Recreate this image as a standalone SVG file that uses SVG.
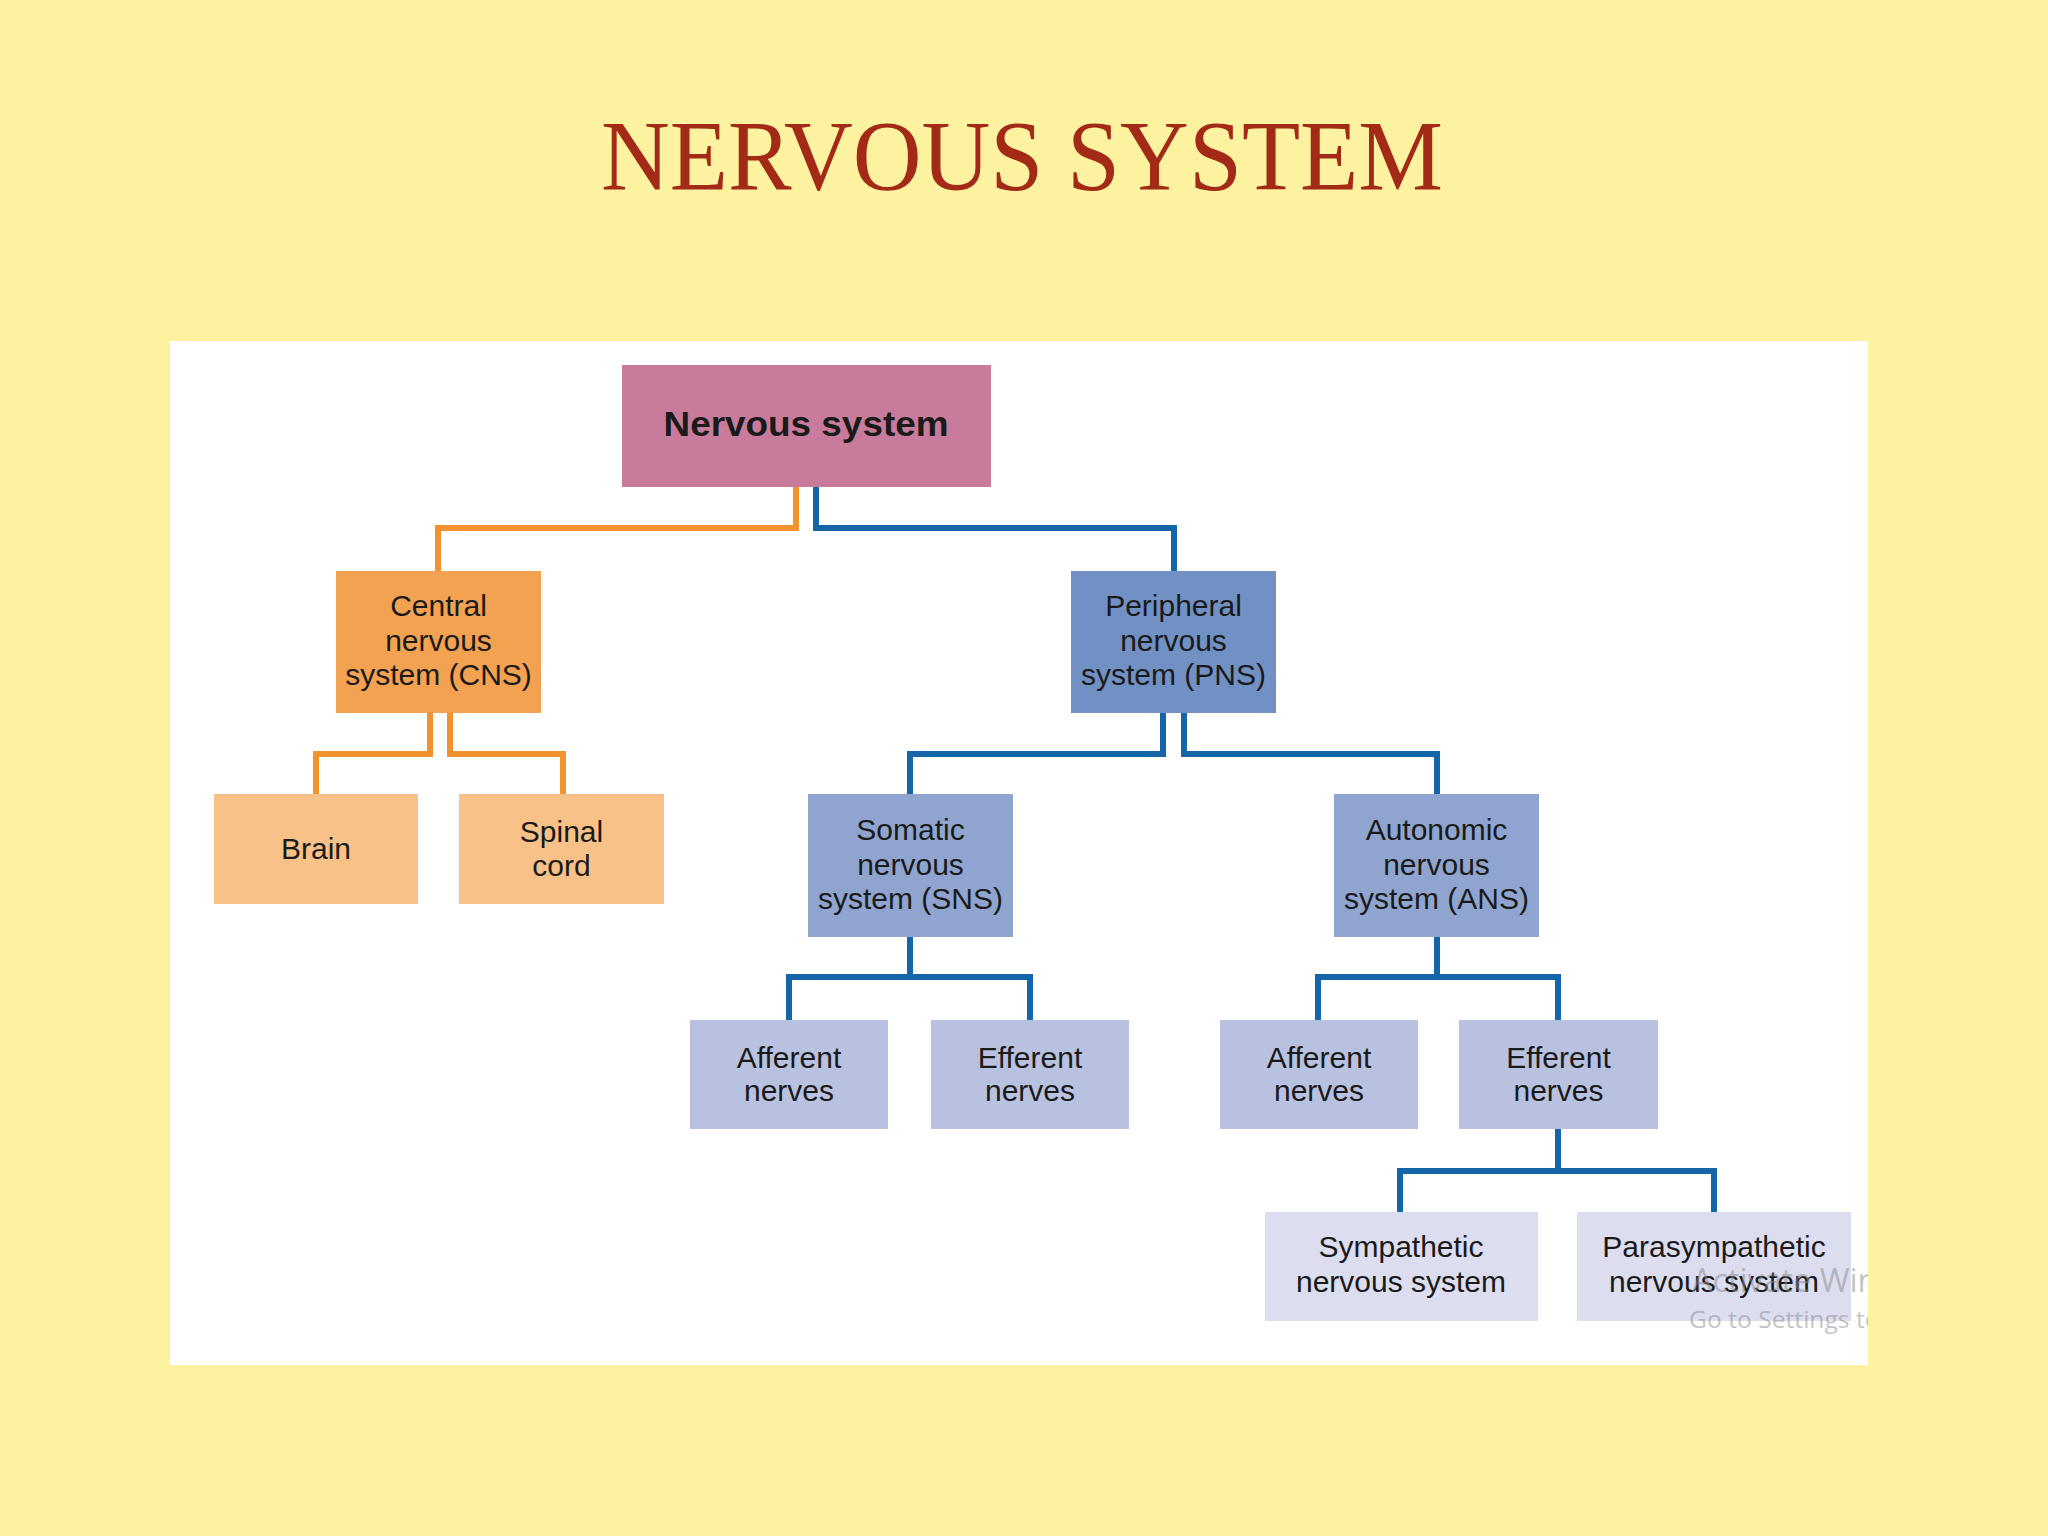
<svg xmlns="http://www.w3.org/2000/svg" width="2048" height="1536" viewBox="0 0 2048 1536">
  <defs>
    <style>
      .lbl { font-family: "Liberation Sans", Arial, Helvetica, sans-serif; font-size: 30px; fill: #1a1a1a; text-anchor: middle; }
      .root { font-family: "Liberation Sans", Arial, Helvetica, sans-serif; font-size: 35px; font-weight: bold; fill: #1a1a1a; text-anchor: middle; }
      .title { font-family: "Liberation Serif", "Times New Roman", serif; font-size: 100px; fill: #A32A17; }
      .or { fill: none; stroke: #F29330; stroke-width: 6; stroke-linejoin: miter; }
      .bl { fill: none; stroke: #1466A8; stroke-width: 6; stroke-linejoin: miter; }
      .wm { font-family: "Open Sans", "Noto Sans", sans-serif; fill: #888888; fill-opacity: 0.5; }
    </style>
    <clipPath id="panelClip">
      <rect x="170" y="341" width="1698" height="1024"/>
    </clipPath>
  </defs>

  <rect x="0" y="0" width="2048" height="1536" fill="#FDF2A0"/>
  <text class="title" x="601" y="189" textLength="842" lengthAdjust="spacingAndGlyphs">NERVOUS SYSTEM</text>

  <rect x="170" y="341" width="1698" height="1024" fill="#FFFFFF"/>

  <g id="connectors">
    <path class="or" d="M796,487 V528 H438 V571"/>
    <path class="bl" d="M816,487 V528 H1174 V571"/>
    <path class="or" d="M430,713 V754 H316 V794"/>
    <path class="or" d="M450,713 V754 H563 V794"/>
    <path class="bl" d="M1163,713 V754 H910 V794"/>
    <path class="bl" d="M1184,713 V754 H1437 V794"/>
    <path class="bl" d="M789,1020 V977 H1030 V1020 M910,937 V977"/>
    <path class="bl" d="M1318,1020 V977 H1558 V1020 M1437,937 V977"/>
    <path class="bl" d="M1400,1212 V1171 H1714 V1212 M1558,1129 V1171"/>
  </g>

  <g id="nervous-system">
    <rect x="622" y="365" width="369" height="122" fill="#C87B9A"/>
    <text class="root" x="806" y="436" textLength="285" lengthAdjust="spacingAndGlyphs">Nervous system</text>
  </g>

  <g id="cns">
    <rect x="336" y="571" width="205" height="142" fill="#F3A252"/>
    <text class="lbl" x="438.5" y="616">Central</text>
    <text class="lbl" x="438.5" y="651">nervous</text>
    <text class="lbl" x="438.5" y="685">system (CNS)</text>
  </g>

  <g id="pns">
    <rect x="1071" y="571" width="205" height="142" fill="#7190C4"/>
    <text class="lbl" x="1173.5" y="616">Peripheral</text>
    <text class="lbl" x="1173.5" y="651">nervous</text>
    <text class="lbl" x="1173.5" y="685">system (PNS)</text>
  </g>

  <g id="brain">
    <rect x="214" y="794" width="204" height="110" fill="#F8C188"/>
    <text class="lbl" x="316" y="859">Brain</text>
  </g>

  <g id="spinal-cord">
    <rect x="459" y="794" width="205" height="110" fill="#F8C188"/>
    <text class="lbl" x="561.5" y="842">Spinal</text>
    <text class="lbl" x="561.5" y="876">cord</text>
  </g>

  <g id="sns">
    <rect x="808" y="794" width="205" height="143" fill="#8FA4CE"/>
    <text class="lbl" x="910.5" y="840">Somatic</text>
    <text class="lbl" x="910.5" y="875">nervous</text>
    <text class="lbl" x="910.5" y="909">system (SNS)</text>
  </g>

  <g id="ans">
    <rect x="1334" y="794" width="205" height="143" fill="#8FA4CE"/>
    <text class="lbl" x="1436.5" y="840">Autonomic</text>
    <text class="lbl" x="1436.5" y="875">nervous</text>
    <text class="lbl" x="1436.5" y="909">system (ANS)</text>
  </g>

  <g id="sns-afferent">
    <rect x="690" y="1020" width="198" height="109" fill="#B9C1E0"/>
    <text class="lbl" x="789" y="1068">Afferent</text>
    <text class="lbl" x="789" y="1101">nerves</text>
  </g>

  <g id="sns-efferent">
    <rect x="931" y="1020" width="198" height="109" fill="#B9C1E0"/>
    <text class="lbl" x="1030" y="1068">Efferent</text>
    <text class="lbl" x="1030" y="1101">nerves</text>
  </g>

  <g id="ans-afferent">
    <rect x="1220" y="1020" width="198" height="109" fill="#B9C1E0"/>
    <text class="lbl" x="1319" y="1068">Afferent</text>
    <text class="lbl" x="1319" y="1101">nerves</text>
  </g>

  <g id="ans-efferent">
    <rect x="1459" y="1020" width="199" height="109" fill="#B9C1E0"/>
    <text class="lbl" x="1558.5" y="1068">Efferent</text>
    <text class="lbl" x="1558.5" y="1101">nerves</text>
  </g>

  <g id="sympathetic">
    <rect x="1265" y="1212" width="273" height="109" fill="#DCDEF0"/>
    <text class="lbl" x="1401" y="1257">Sympathetic</text>
    <text class="lbl" x="1401" y="1292">nervous system</text>
  </g>

  <g id="parasympathetic">
    <rect x="1577" y="1212" width="274" height="109" fill="#DCDEF0"/>
    <text class="lbl" x="1714" y="1257">Parasympathetic</text>
    <text class="lbl" x="1714" y="1292">nervous system</text>
  </g>

  <g id="watermark" clip-path="url(#panelClip)">
    <text class="wm" x="1692" y="1292" font-size="32" textLength="265" lengthAdjust="spacingAndGlyphs">Activate Windows</text>
    <text class="wm" x="1689" y="1328" font-size="24" textLength="404" lengthAdjust="spacingAndGlyphs">Go to Settings to activate Windows.</text>
  </g>
</svg>
